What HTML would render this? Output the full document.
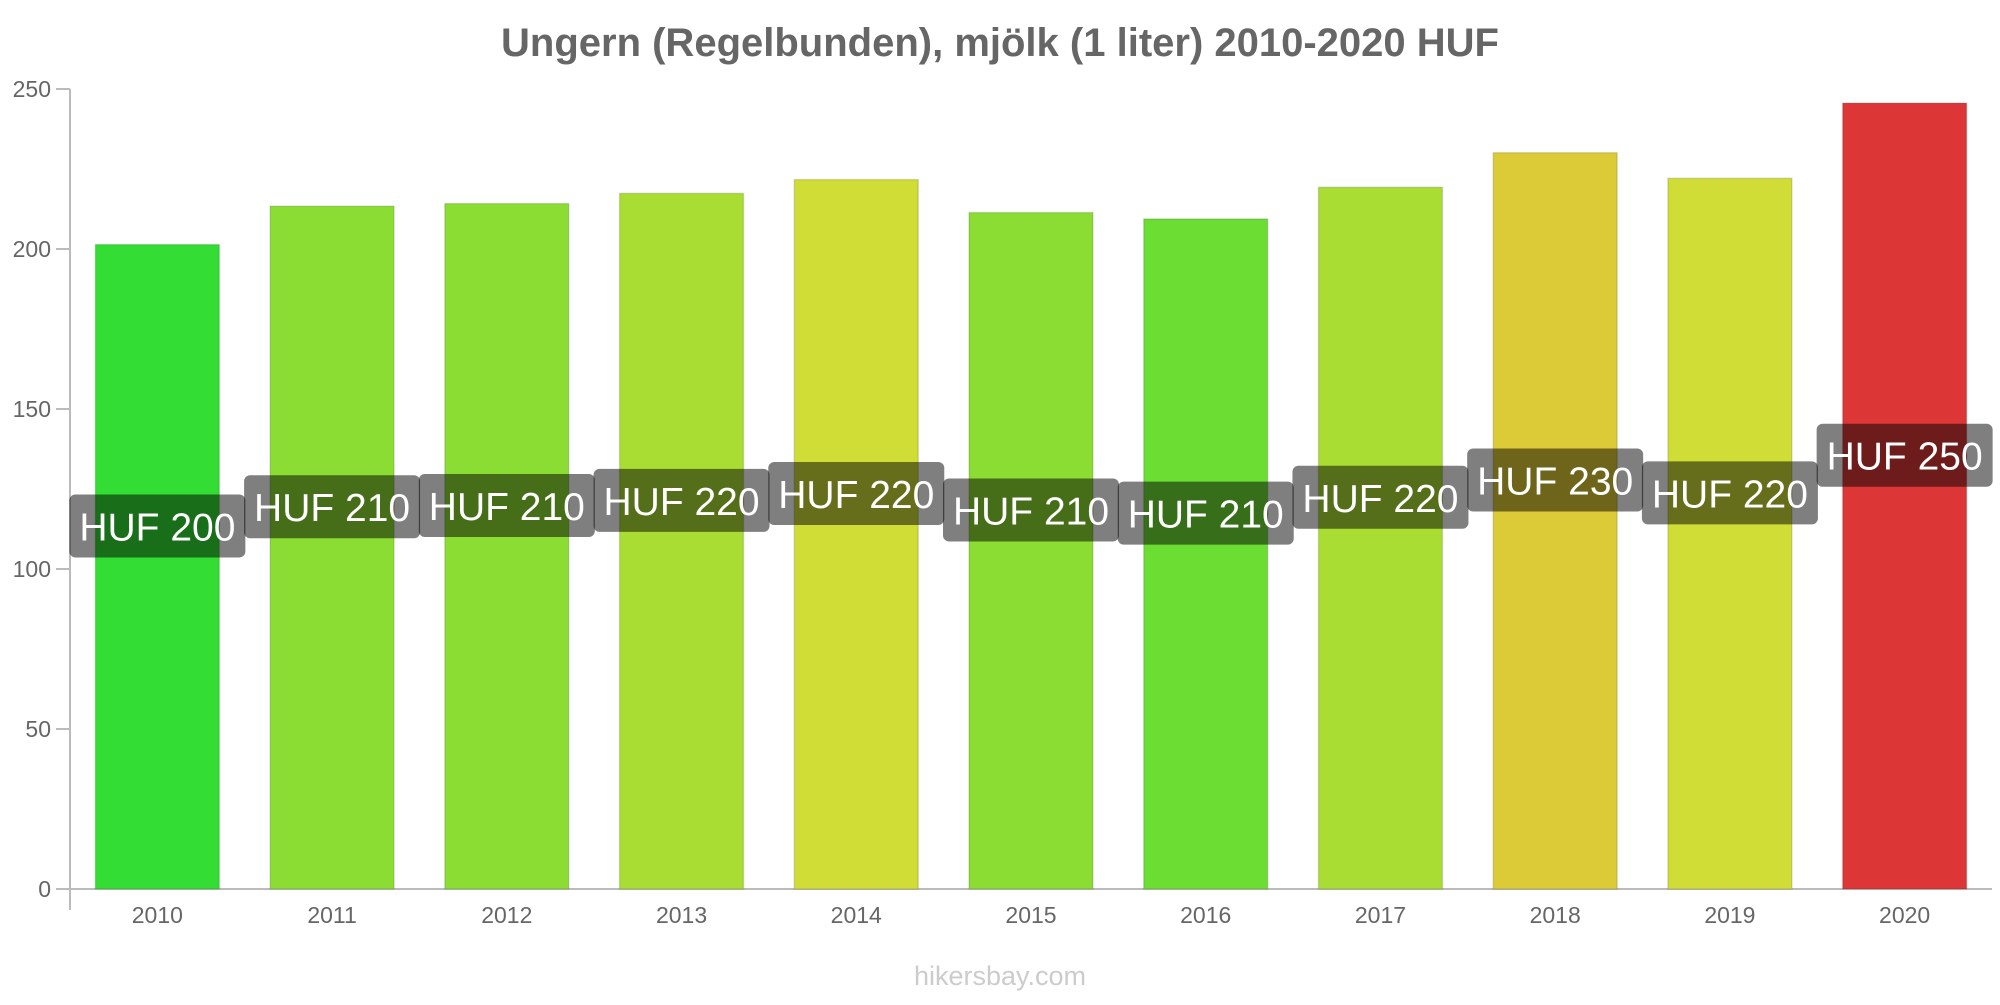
<!DOCTYPE html>
<html><head><meta charset="utf-8"><style>
body{margin:0;background:#fff}
svg text{font-family:"Liberation Sans",sans-serif}
</style></head><body>
<svg id="chart" width="2000" height="1000" viewBox="0 0 2000 1000" xmlns="http://www.w3.org/2000/svg">
<text x="1000" y="56" text-anchor="middle" font-size="40" font-weight="bold" fill="#666">Ungern (Regelbunden), mjölk (1 liter) 2010-2020 HUF</text>
<g id="grid"></g><g id="bars"></g><g id="labels"></g>
<text x="1000" y="985" text-anchor="middle" font-size="27" fill="#ccc">hikersbay.com</text>
</svg>
<script>
const years=["2010","2011","2012","2013","2014","2015","2016","2017","2018","2019","2020"];
const values=[201.4,213.4,214.2,217.4,221.7,211.4,209.4,219.3,230.1,222.1,245.6];
const labels=["HUF 200","HUF 210","HUF 210","HUF 220","HUF 220","HUF 210","HUF 210","HUF 220","HUF 230","HUF 220","HUF 250"];
const yTicks=[0,50,100,150,200,250];
const colors=["#33dd33","#8cdd33","#8cdd33","#aadd33","#cfdd36","#8cdd33","#6cdd33","#aadd33","#dccb36","#cfdd36","#dd3636"];
const NS="http://www.w3.org/2000/svg";
const x0=70,x1=1992,y0=889,pxPer=3.2;
const band=(x1-x0)/years.length,bw=124;
const y=v=>y0-v*pxPer;
const bx=i=>x0+band*i+band/2;
function mk(t,a,p){const e=document.createElementNS(NS,t);for(const k in a)e.setAttribute(k,a[k]);p.appendChild(e);return e;}
const g=document.getElementById('grid'),b=document.getElementById('bars'),l=document.getElementById('labels');
const ya=mk('line',{x1:x0,x2:x0,y1:y(250),y2:910,stroke:'#bbb','stroke-width':2},g);


const xa=mk('line',{x1:x0,x2:x1,y1:y0,y2:y0,stroke:'#bbb','stroke-width':2},g);


yTicks.forEach(t=>{
 const tk=mk('line',{x1:x0-14,x2:x0,y1:y(t),y2:y(t),stroke:'#bbb','stroke-width':2},g);
 
 
 const tx=mk('text',{x:x0-19,y:y(t)+8,'text-anchor':'end','font-size':23,fill:'#666'},g);
 tx.textContent=t;
 
 
});
years.forEach((yr,i)=>{
 const r=mk('rect',{x:bx(i)-bw/2,y:y(values[i]),width:bw,height:values[i]*pxPer,fill:colors[i],stroke:'rgba(0,0,0,0.12)','stroke-width':1.5},b);
 
 
 const tx=mk('text',{x:bx(i),y:923,'text-anchor':'middle','font-size':23,fill:'#666'},g);
 tx.textContent=yr;
 
 
 const cy=y(values[i]/2+12.6);
 const bg=mk('rect',{x:bx(i)-88,y:cy-32,width:176,height:63,rx:6,fill:'rgba(0,0,0,0.5)'},l);
 
 
 const lt=mk('text',{x:bx(i),y:cy+14,'text-anchor':'middle','font-size':39,fill:'#fff'},l);
 lt.textContent=labels[i];
 
 
});
</script>
</body></html>
